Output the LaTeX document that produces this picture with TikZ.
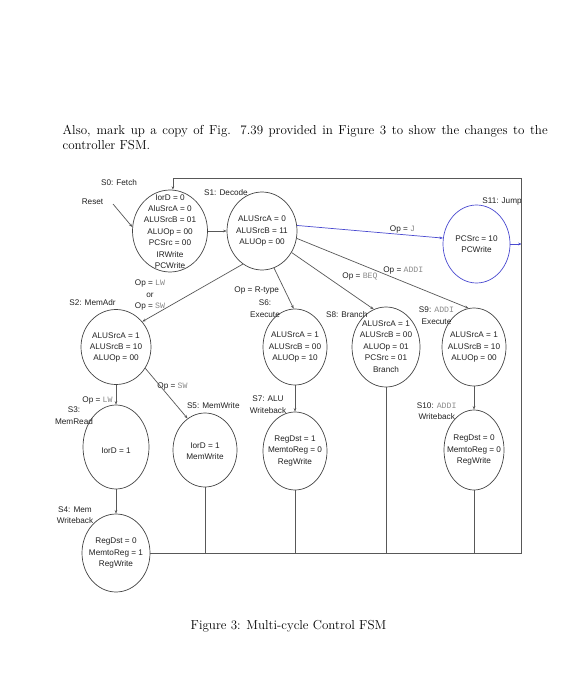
\documentclass[tikz,border=0pt]{standalone}
\usepackage{fontspec}
\newfontfamily\arialf{Liberation Sans}
\newfontfamily\monof{Liberation Mono}
\usetikzlibrary{shapes.geometric,arrows.meta}
\definecolor{lc}{HTML}{585858}
\definecolor{ec}{HTML}{444444}
\definecolor{bl}{HTML}{4A4AD0}
\definecolor{tc}{HTML}{222222}
\definecolor{mc}{HTML}{8A8A8A}
\newcommand{\opc}[1]{{\color{mc}\monof\fontsize{8.2}{10}\selectfont #1}}
\tikzset{
  st/.style={draw=ec, line width=0.7pt, ellipse, inner sep=0pt},
  lbl/.style={font=\arialf\fontsize{8.2}{11.4}\selectfont, text=tc, inner sep=0pt, align=center},
  ln/.style={draw=lc, line width=0.7pt},
  arr/.style={ln, -{Stealth[length=3.6pt,width=2.6pt]}},
  body/.style={font=\fontsize{13}{15.6}\selectfont, inner sep=0pt, anchor=base west},
}
\begin{document}
\begin{tikzpicture}[x=1pt,y=-1pt]
\fill[white] (0,0) rectangle (563,700);
\useasboundingbox (0,0) rectangle (563,700);

% paragraph and caption
\node[body] (p1) at (62.5,134.5) {\makebox[485pt][s]{Also, mark up a copy of Fig. 7.39 provided in Figure 3 to show the changes to the}};
\node[body] (p2) at (62.5,150) {controller FSM.};
\node[body, anchor=base] (cap) at (288.5,629.5) {Figure 3: Multi-cycle Control FSM};

% states
\node[st, minimum width=75pt, minimum height=82pt] (S0) at (170,231) {};
\node[st, minimum width=70pt, minimum height=78pt] (S1) at (262,231) {};
\node[st, draw=bl, minimum width=67pt, minimum height=78pt] (S11) at (476.5,244) {};
\node[st, minimum width=70pt, minimum height=75pt] (S2) at (116,347) {};
\node[st, minimum width=64pt, minimum height=76pt] (S6) at (295,347) {};
\node[st, minimum width=68pt, minimum height=80pt] (S8) at (386,347) {};
\node[st, minimum width=64pt, minimum height=78pt] (S9) at (474,347) {};
\node[st, minimum width=66pt, minimum height=84pt] (S3) at (116,447) {};
\node[st, minimum width=64pt, minimum height=74pt] (S5) at (205,450) {};
\node[st, minimum width=64pt, minimum height=78pt] (S7) at (295,451) {};
\node[st, minimum width=60pt, minimum height=80pt] (S10) at (474,450) {};
\node[st, minimum width=68pt, minimum height=78pt] (S4) at (116,553) {};

% state contents
\node[lbl] (t0) at (170,231.5) {IorD = 0\\AluSrcA = 0\\ALUSrcB = 01\\ALUOp = 00\\PCSrc = 00\\IRWrite\\PCWrite};
\node[lbl] (t1) at (262,231) {ALUSrcA = 0\\ALUSrcB = 11\\ALUOp = 00};
\node[lbl] (t11) at (476.5,244) {PCSrc = 10\\PCWrite};
\node[lbl] (t2) at (116,347.5) {ALUSrcA = 1\\ALUSrcB = 10\\ALUOp = 00};
\node[lbl] (t6) at (295,347) {ALUSrcA = 1\\ALUSrcB = 00\\ALUOp = 10};
\node[lbl] (t8) at (386,346.5) {ALUSrcA = 1\\ALUSrcB = 00\\ALUOp = 01\\PCSrc = 01\\Branch};
\node[lbl] (t9) at (474,347) {ALUSrcA = 1\\ALUSrcB = 10\\ALUOp = 00};
\node[lbl] (t3) at (116,451) {IorD = 1};
\node[lbl] (t5) at (205,451) {IorD = 1\\MemWrite};
\node[lbl] (t7) at (295,450.7) {RegDst = 1\\MemtoReg = 0\\RegWrite};
\node[lbl] (t10) at (474,450) {RegDst = 0\\MemtoReg = 0\\RegWrite};
\node[lbl] (t4) at (116,553) {RegDst = 0\\MemtoReg = 1\\RegWrite};

% state names
\node[lbl] (n0) at (119,183) {S0: Fetch};
\node[lbl] (n1) at (226,192.5) {S1: Decode};
\node[lbl] (n11) at (502,201) {S11: Jump};
\node[lbl] (n2) at (92.5,302.7) {S2: MemAdr};
\node[lbl] (n6) at (265,308.5) {S6:\\Execute};
\node[lbl] (n8) at (346.7,315) {S8: Branch};
\node[lbl] (n9) at (436.5,315.5) {S9: \opc{ADDI}\\Execute};
\node[lbl] (n3) at (74,415.5) {S3:\\MemRead};
\node[lbl] (n5) at (213.3,406) {S5: MemWrite};
\node[lbl] (n7) at (268,404.5) {S7: ALU\\Writeback};
\node[lbl] (n10) at (436.7,411) {S10: \opc{ADDI}\\Writeback};
\node[lbl] (n4) at (75,515) {S4: Mem\\Writeback};
\node[lbl] (rst) at (92.5,202) {Reset};

% transition labels
\node[lbl] (oj) at (402.5,229) {Op = \opc{J}};
\node[lbl] (obeq) at (360,276.5) {Op = \opc{BEQ}};
\node[lbl] (oaddi) at (403.3,270) {Op = \opc{ADDI}};
\node[lbl] (ort) at (256.7,290) {Op = R-type};
\node[lbl] (olwsw) at (150,295.3) {Op = \opc{LW}\\or\\Op = \opc{SW}};
\node[lbl] (osw) at (172.5,386) {Op = \opc{SW}};
\node[lbl] (olw) at (97.5,400) {Op = \opc{LW}};

% coordinates of the return path
\coordinate (br) at (521.7,553);
\coordinate (tr) at (521.7,178);
\coordinate (rs) at (113,204);

% transitions
\draw[arr] (rs) -- (S0.174);
\draw[arr] (S0.east) -- (S1.west);
\draw[arr, draw=bl] (S1.9) -- (S11.170);
\draw[arr] (S1.-12) -- (S9.98);
\draw[arr] (S1.-36) -- (S8.108);
\draw[arr] (S1.-72) -- (S6.92);
\draw[arr] (S1.-120) -- (S2.44);
\draw[arr] (S2.south) -- (S3.north);
\draw[arr] (S2.-36) -- (S5.119);
\draw[arr] (S3.south) -- (S4.north);
\draw[arr] (S6.south) -- (S7.north);
\draw[arr] (S9.south) -- (S10.north);
\draw[arr, draw=bl] (S11.east) -- (S11.east -| br);
\draw[ln] (S5.south) -- (S5.south |- br);
\draw[ln] (S7.south) -- (S7.south |- br);
\draw[ln] (S8.south) -- (S8.south |- br);
\draw[ln] (S10.south) -- (S10.south |- br);
\draw[arr] (S4.east) -- (br) -- (tr) -| (S0.86);
\end{tikzpicture}
\end{document}
